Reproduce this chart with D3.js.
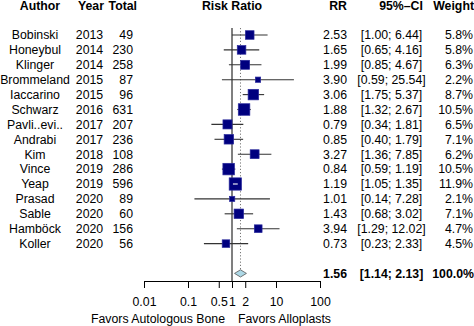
<!DOCTYPE html>
<html>
<head>
<meta charset="utf-8">
<script src="https://cdn.jsdelivr.net/npm/d3@7"></script>
<style>
  body { margin: 0; background: #fff; }
  svg { display: block; font-family: "Liberation Sans", Arial, Helvetica, sans-serif; font-size: 12.3px; }
  .hdr { font-weight: bold; }
</style>
</head>
<body>
<svg id="chart" width="474" height="326"></svg>
<script>
// Forest plot: risk ratio, allo vs autologous bone

const authors = ["Bobinski", "Honeybul", "Klinger", "Brommeland", "Iaccarino", "Schwarz",
  "Pavli..evi..", "Andrabi", "Kim", "Vince", "Yeap", "Prasad", "Sable", "Hamböck", "Koller"];
const years   = [2013, 2014, 2014, 2015, 2015, 2016, 2017, 2017, 2018, 2019, 2019, 2020, 2020, 2020, 2020];
const totals  = [49, 230, 258, 87, 96, 631, 207, 236, 108, 286, 596, 89, 60, 156, 56];
const rr      = [2.53, 1.65, 1.99, 3.90, 3.06, 1.88, 0.79, 0.85, 3.27, 0.84, 1.19, 1.01, 1.43, 3.94, 0.73];
const lower   = [1.00, 0.65, 0.85, 0.59, 1.75, 1.32, 0.34, 0.40, 1.36, 0.59, 1.05, 0.14, 0.68, 1.29, 0.23];
const upper   = [6.44, 4.16, 4.67, 25.54, 5.37, 2.67, 1.81, 1.79, 7.85, 1.19, 1.35, 7.28, 3.02, 12.02, 2.33];
const weights = [5.8, 5.8, 6.3, 2.2, 8.7, 10.5, 6.5, 7.1, 6.2, 10.5, 11.9, 2.1, 7.1, 4.7, 4.5];

// pooled (random effects) estimate
const pooled = [1.56, 1.14, 2.13];
const pooledWeight = 100.0;

const tickValues = [0.01, 0.1, 0.5, 1, 2, 10, 100];
const tickLabels = ["0.01", "0.1", "0.5", "1", "2", "10", "100"];
const headers = ["Author", "Year", "Total", "Risk Ratio", "RR", "95%\u2013CI", "Weight"];
const favours = ["Favors Autologous Bone", "Favors Alloplasts"];

const svg = d3.select("#chart");

const x = d3.scaleLog().domain([0.01, 100]).range([144, 320]);
const y = d3.scaleLinear().domain([0, authors.length + 1]).range([35, 273.4]);
const side = d3.scaleSqrt().domain([0, 11.9]).range([0, 12.3]);

const AXIS_Y = 281;
const TOP_Y = 28;

const rows = authors.map((a, i) => ({
  author: a, year: years[i], total: totals[i],
  rr: rr[i], lo: lower[i], hi: upper[i], w: weights[i], i: i
}));

// headers
const hdrPos = [[40, "middle"], [91, "middle"], [137, "end"], [232, "middle"],
                [347, "end"], [401, "middle"], [474, "end"]];
svg.append("g").selectAll("text")
  .data(headers)
  .join("text")
    .attr("class", "hdr")
    .attr("x", (d, i) => hdrPos[i][0])
    .attr("y", 6)
    .attr("dy", "0.35em")
    .attr("text-anchor", (d, i) => hdrPos[i][1])
    .text(d => d);

// reference lines
svg.append("line")
  .attr("x1", x(1)).attr("x2", x(1))
  .attr("y1", TOP_Y).attr("y2", AXIS_Y)
  .attr("stroke", "#000").attr("stroke-width", 1);

svg.append("line")
  .attr("x1", x(pooled[0])).attr("x2", x(pooled[0]))
  .attr("y1", TOP_Y).attr("y2", y(authors.length + 1) - 4)
  .attr("stroke", "#777").attr("stroke-width", 1)
  .attr("stroke-dasharray", "1.2,2");

// study rows
const g = svg.append("g").selectAll("g")
  .data(rows)
  .join("g")
    .attr("transform", d => `translate(0,${y(d.i)})`);

g.append("line")
  .attr("x1", d => x(d.lo)).attr("x2", d => x(d.hi))
  .attr("stroke", "#333").attr("stroke-width", 1.1);

g.append("rect")
  .attr("x", d => x(d.rr) - side(d.w) / 2)
  .attr("y", d => -side(d.w) / 2)
  .attr("width", d => side(d.w))
  .attr("height", d => side(d.w))
  .attr("fill", "#00007f")
  .attr("stroke", "#2a2a9c")
  .attr("stroke-width", 0.7);

// CI fully inside the square -> white line on top
g.filter(d => x(d.hi) - x(d.lo) < side(d.w))
  .append("line")
    .attr("x1", d => x(d.lo)).attr("x2", d => x(d.hi))
    .attr("stroke", "#fff").attr("stroke-width", 1.1);

g.append("text").attr("x", 35).attr("dy", "0.35em").attr("text-anchor", "middle").text(d => d.author);
g.append("text").attr("x", 89.5).attr("dy", "0.35em").attr("text-anchor", "middle").text(d => d.year);
g.append("text").attr("x", 133).attr("dy", "0.35em").attr("text-anchor", "end").text(d => d.total);
g.append("text").attr("x", 347).attr("dy", "0.35em").attr("text-anchor", "end").text(d => d.rr.toFixed(2));
g.append("text").attr("x", 391.5).attr("dy", "0.35em").attr("text-anchor", "middle")
  .text(d => `[${d.lo.toFixed(2)}; ${d.hi.toFixed(2)}]`);
g.append("text").attr("x", 473).attr("dy", "0.35em").attr("text-anchor", "end").text(d => d.w.toFixed(1) + "%");

// pooled row
const sy = y(authors.length + 1);
const dh = 3.6;
svg.append("path")
  .attr("d", `M${x(pooled[1])},${sy} L${x(pooled[0])},${sy - dh} L${x(pooled[2])},${sy} L${x(pooled[0])},${sy + dh} Z`)
  .attr("fill", "#add8e6")
  .attr("stroke", "#555")
  .attr("stroke-width", 0.8);

const sg = svg.append("g").attr("class", "hdr").attr("transform", `translate(0,${sy})`);
sg.append("text").attr("x", 347).attr("dy", "0.35em").attr("text-anchor", "end").text(pooled[0].toFixed(2));
sg.append("text").attr("x", 391.5).attr("dy", "0.35em").attr("text-anchor", "middle")
  .text(`[${pooled[1].toFixed(2)}; ${pooled[2].toFixed(2)}]`);
sg.append("text").attr("x", 474).attr("dy", "0.35em").attr("text-anchor", "end").text(pooledWeight.toFixed(1) + "%");

// axis
const axis = d3.axisBottom(x)
  .tickValues(tickValues)
  .tickFormat((d, i) => tickLabels[i])
  .tickSize(7)
  .tickSizeOuter(0)
  .tickPadding(9);

const ax = svg.append("g")
  .attr("transform", `translate(0,${AXIS_Y})`)
  .call(axis);
ax.select(".domain").attr("stroke", "#000");
ax.selectAll(".tick line").attr("stroke", "#000");
ax.selectAll(".tick text")
  .attr("fill", "#000")
  .style("font-family", "\"Liberation Sans\", Arial, Helvetica, sans-serif")
  .style("font-size", "12.3px");

// favours labels
svg.append("text")
  .attr("x", x(1) - 7).attr("y", 319).attr("dy", "0.35em")
  .attr("text-anchor", "end")
  .text(favours[0]);
svg.append("text")
  .attr("x", x(1) + 6).attr("y", 319).attr("dy", "0.35em")
  .attr("text-anchor", "start")
  .text(favours[1]);
</script>
</body>
</html>
